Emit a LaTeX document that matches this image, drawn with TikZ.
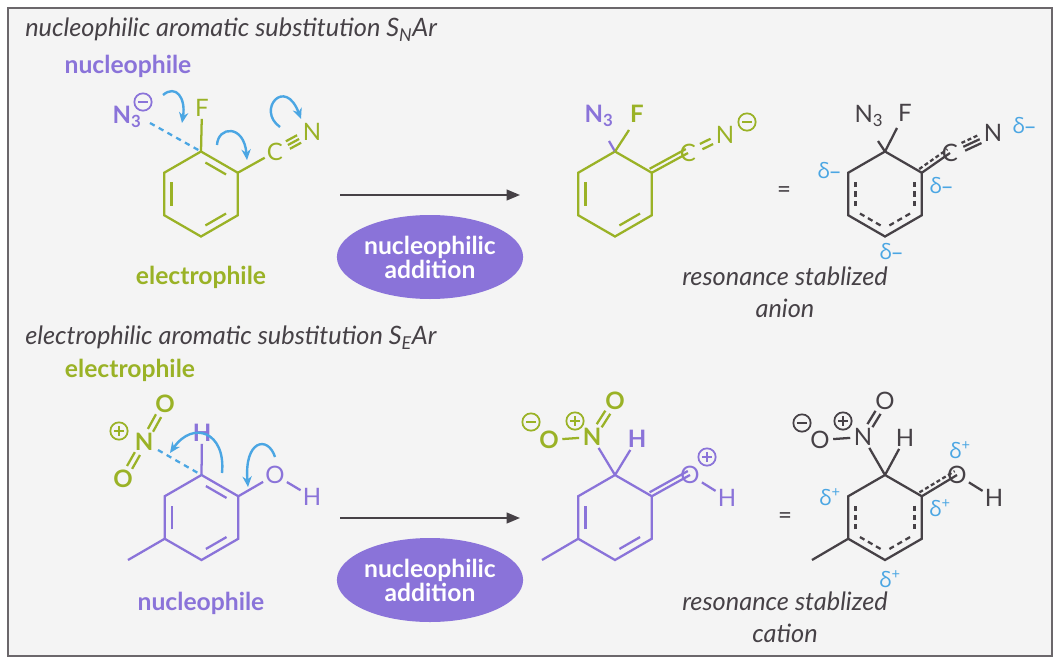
\documentclass[tikz,border=0pt]{standalone}
\usepackage{fontspec}
\setmainfont{Lato}
\newfontfamily\gk{Open Sans}
\usetikzlibrary{calc,arrows.meta,shapes.geometric}
\definecolor{grn}{HTML}{9AB226}
\definecolor{pur}{HTML}{8A73D9}
\definecolor{blu}{HTML}{4BA6E3}
\definecolor{dgr}{HTML}{464146}
\definecolor{bgc}{HTML}{F4F4F4}
\newcommand\chemring[3]{\coordinate (#1c) at (#2,#3);
 \foreach \i/\a in {1/-90,2/-30,3/30,4/90,5/150,6/210}{\coordinate (#1\i) at ($(#1c)+(\a:42.5)$);}}
\newcommand\ib[4]{\path ($(#1)!0.2!(#3)$) coordinate (iba) ($(#2)!0.2!(#3)$) coordinate (ibb);
 \draw[#4] ($(iba)!0.15!(ibb)$) -- ($(ibb)!0.15!(iba)$);}
\newcommand\mb[5]{\draw[#5,shorten <=#4,shorten >=#4] ($(#1)!#3!90:(#2)$) -- ($(#2)!#3!-90:(#1)$);}
\begin{document}
\begin{tikzpicture}[x=0.75pt,y=-0.75pt,
 gb/.style={draw=grn,line width=1.7pt},
 pb/.style={draw=pur,line width=1.7pt},
 kb/.style={draw=dgr,line width=1.7pt},
 kd/.style={kb,dash pattern=on 4pt off 3pt},
 atm/.style={font=\fontsize{18}{21}\selectfont,inner sep=1.5pt},
 bat/.style={atm,font=\fontsize{18}{21}\selectfont\bfseries},
 ttl/.style={font=\fontsize{19}{23}\selectfont\itshape,text=dgr,anchor=west,inner sep=0},
 big/.style={font=\fontsize{18.5}{22}\selectfont\bfseries,inner sep=0},
 dl/.style={text=blu,font=\gk\fontsize{16}{18}\selectfont,inner sep=0},
 chg/.style={circle,draw,line width=1.3pt,minimum size=13pt,inner sep=0},
 chm/.style={chg,path picture={\draw[line width=1.3pt,#1]([xshift=-3.5pt]path picture bounding box.center)--([xshift=3.5pt]path picture bounding box.center);}},
 chp/.style={chg,path picture={\draw[line width=1.3pt,#1]([xshift=-3.5pt]path picture bounding box.center)--([xshift=3.5pt]path picture bounding box.center) ([yshift=-3.5pt]path picture bounding box.center)--([yshift=3.5pt]path picture bounding box.center);}},
 ca/.style={draw=blu,line width=1.8pt,-{Stealth[length=8pt,width=7pt]}},
 rx/.style={draw=dgr,line width=1.5pt,-{Triangle[length=10pt,width=8pt]}},
 ell/.style={ellipse,fill=pur,minimum width=132pt,minimum height=63pt,text=white,font=\fontsize{18.5}{21}\selectfont\bfseries,align=center,inner sep=0}]
\useasboundingbox (0,0) rectangle (1060,664);
\draw[fill=bgc,draw=dgr!80,line width=1.5pt] (8,8) rectangle (1052,656);
% ---------- top half
\node[ttl] (t1) at (25,30) {nucleophilic aromatic substitution S\textsubscript{N}Ar};
\node[big,text=pur] (nu1) at (128,66) {nucleophile};
\node[big,text=grn] (el1) at (201,277) {electrophile};
% molecule 1
\chemring{A}{201}{194}
\draw[gb] (A1)--(A2)--(A3)--(A4)--(A5)--(A6)--cycle;
\ib{A1}{A2}{Ac}{gb}\ib{A3}{A4}{Ac}{gb}\ib{A5}{A6}{Ac}{gb}
\node[atm,text=grn] (F1) at (202,108) {F};
\draw[gb] (A1)--(F1);
\node[atm,text=grn] (C1) at (275,152) {C};
\node[atm,text=grn] (N1) at (312,132) {N};
\draw[gb] (A2)--(C1);
\mb{C1}{N1}{0pt}{11pt}{gb}\mb{C1}{N1}{3.2pt}{11pt}{gb}\mb{C1}{N1}{-3.2pt}{11pt}{gb}
\node[bat,text=pur] (Nt1) at (127,117) {N\textsubscript{3}};
\node[chm=pur,draw=pur] (m1) at (143,102) {};
\draw[draw=blu,line width=1.7pt,dash pattern=on 4pt off 3.5pt] (150,123) -- (A1);
\draw[ca] (163,95) .. controls (176,84) and (186,98) .. (182,123);
\draw[ca] (217,145) .. controls (218,126) and (244,124) .. (247,160);
\draw[ca] (280,127) .. controls (256,110) and (285,76) .. (301,119);
% arrow + ellipse
\coordinate (a1s) at (340,195); \coordinate (a1e) at (520,195);
\draw[rx] (a1s) -- (a1e);
\node[ell] (e1) at (430,257) {nucleophilic\\[-3pt]addition};
% molecule 2
\chemring{B}{615}{194}
\draw[gb] (B1)--(B2)--(B3)--(B4)--(B5)--(B6)--cycle;
\ib{B5}{B6}{Bc}{gb}\ib{B3}{B4}{Bc}{gb}
\node[atm,text=grn] (C2) at (688,153) {C};
\node[atm,text=grn] (N2) at (725,135) {N};
\node[chm=grn,draw=grn] (m2) at (747,122) {};
\mb{B2}{C2}{0pt}{0pt}{gb,shorten >=9pt}\mb{B2}{C2}{3.4pt}{0pt}{gb,shorten >=11pt,shorten <=5pt}
\mb{C2}{N2}{2.2pt}{11pt}{gb}\mb{C2}{N2}{-2.2pt}{11pt}{gb}
\node[bat,text=pur] (Nt2) at (599,116) {N\textsubscript{3}};
\node[bat,text=grn] (F2) at (637,114) {F};
\coordinate (n2b) at (609,141); \coordinate (f2b) at (629,130);
\draw[pb] (B1)--(n2b); \draw[gb] (B1)--(f2b);
\node[atm,text=dgr] (eq1) at (784,192) {=};
% molecule 3
\chemring{D}{885}{194}
\draw[kb] (D1)--(D2)--(D3)--(D4)--(D5)--(D6)--cycle;
\ib{D2}{D3}{Dc}{kd}\ib{D3}{D4}{Dc}{kd}\ib{D4}{D5}{Dc}{kd}\ib{D5}{D6}{Dc}{kd}
\node[atm,text=dgr] (Nt3) at (869,116) {N\textsubscript{3}};
\node[atm,text=dgr] (F3) at (905,113) {F};
\coordinate (n3b) at (878,141); \coordinate (f3b) at (897,128);
\draw[kb] (D1)--(n3b); \draw[kb] (D1)--(f3b);
\node[atm,text=dgr] (C3) at (950,153) {C};
\node[atm,text=dgr] (N3) at (993,133) {N};
\mb{D2}{C3}{0pt}{0pt}{kb,shorten >=9pt}\mb{D2}{C3}{3.4pt}{0pt}{kd,dash pattern=on 3pt off 2pt,shorten >=11pt,shorten <=5pt}
\mb{C3}{N3}{0pt}{11pt}{kb}\mb{C3}{N3}{-3.2pt}{11pt}{kb}\mb{C3}{N3}{3.2pt}{11pt}{kd,dash pattern=on 3pt off 2pt}
\node[dl] (d1) at (1024,126) {δ–};
\node[dl] (d2) at (829,171) {δ–};
\node[dl] (d3) at (941,186) {δ–};
\node[dl] (d4) at (891,252) {δ–};
\node[ttl,anchor=center,align=center] (r1) at (785,292) {resonance stablized\\[1pt]anion};
% ---------- bottom half
\node[ttl] (t2) at (25,338) {electrophilic aromatic substitution S\textsubscript{E}Ar};
\node[big,text=grn] (el2) at (130,370) {electrophile};
\node[big,text=pur] (nu2) at (201,603) {nucleophile};
% molecule 4
\chemring{G}{201.5}{517.5}
\draw[pb] (G1)--(G2)--(G3)--(G4)--(G5)--(G6)--cycle;
\ib{G1}{G2}{Gc}{pb}\ib{G3}{G4}{Gc}{pb}\ib{G5}{G6}{Gc}{pb}
\coordinate (me4) at (128,560); \draw[pb] (G5)--(me4);
\node[bat,text=pur] (H4) at (202,433) {H};
\draw[pb] (G1)--(H4);
\node[atm,text=pur] (O4) at (275,475) {O};
\node[atm,text=pur] (Hb4) at (312,497) {H};
\draw[pb] (G2)--(O4); \draw[pb] (O4)--(Hb4);
\node[bat,text=grn] (N4) at (144,442) {N};
\node[chp=grn,draw=grn] (p4) at (119,431) {};
\node[bat,text=grn] (Oa4) at (165,404) {O};
\node[bat,text=grn] (Ob4) at (123,479) {O};
\mb{N4}{Oa4}{2.2pt}{10pt}{gb}\mb{N4}{Oa4}{-2.2pt}{10pt}{gb}
\mb{N4}{Ob4}{2.2pt}{10pt}{gb}\mb{N4}{Ob4}{-2.2pt}{10pt}{gb}
\draw[draw=blu,line width=1.7pt,dash pattern=on 4pt off 3.5pt] (158,450) -- (G1);
\draw[ca] (222,473) .. controls (226,432) and (193,420) .. (170,453);
\draw[ca] (275,457) .. controls (268,435) and (244,440) .. (248,487);
\coordinate (a2s) at (340,518); \coordinate (a2e) at (520,518);
\draw[rx] (a2s) -- (a2e);
\node[ell] (e2) at (430,580) {nucleophilic\\[-3pt]addition};
% molecule 5
\chemring{K}{615}{517.5}
\draw[pb] (K1)--(K2)--(K3)--(K4)--(K5)--(K6)--cycle;
\ib{K5}{K6}{Kc}{pb}\ib{K3}{K4}{Kc}{pb}
\coordinate (me5) at (542,560); \draw[pb] (K5)--(me5);
\node[atm,text=pur] (O5) at (690,475) {O};
\node[chp=pur,draw=pur] (p5) at (707,457) {};
\node[atm,text=pur] (H5) at (727,498) {H};
\mb{K2}{O5}{0pt}{0pt}{pb,shorten >=9pt}\mb{K2}{O5}{3.4pt}{0pt}{pb,shorten >=11pt,shorten <=5pt}
\draw[pb] (O5)--(H5);
\node[bat,text=grn] (N5) at (592,437) {N};
\node[bat,text=pur] (Hn5) at (637,439) {H};
\draw[pb] (K1)--(N5); \draw[pb] (K1)--(Hn5);
\node[chp=grn,draw=grn] (p5b) at (575,421) {};
\node[bat,text=grn] (Oa5) at (615,401) {O};
\node[bat,text=grn] (Ob5) at (549,440) {O};
\node[chm=grn,draw=grn] (m5) at (531,422) {};
\mb{N5}{Oa5}{2.2pt}{10pt}{gb}\mb{N5}{Oa5}{-2.2pt}{10pt}{gb}
\draw[gb,shorten <=1pt,shorten >=1pt] (Ob5)--(N5);
\node[atm,text=dgr] (eq2) at (785,518) {=};
% molecule 6
\chemring{L}{885}{517.5}
\draw[kb] (L1)--(L2)--(L3)--(L4)--(L5)--(L6)--cycle;
\ib{L2}{L3}{Lc}{kd}\ib{L3}{L4}{Lc}{kd}\ib{L4}{L5}{Lc}{kd}\ib{L5}{L6}{Lc}{kd}
\coordinate (me6) at (812,560); \draw[kb] (L5)--(me6);
\node[atm,text=dgr] (O6) at (957,475) {O};
\node[atm,text=dgr] (H6) at (994,498) {H};
\mb{L2}{O6}{0pt}{0pt}{kb,shorten >=9pt}\mb{L2}{O6}{3.4pt}{0pt}{kd,dash pattern=on 3pt off 2pt,shorten >=11pt,shorten <=5pt}
\draw[kb] (O6)--(H6);
\node[atm,text=dgr] (N6) at (863,437) {N};
\node[atm,text=dgr] (Hn6) at (905,438) {H};
\draw[kb] (L1)--(N6); \draw[kb] (L1)--(Hn6);
\node[chp=dgr,draw=dgr] (p6) at (843,421) {};
\node[atm,text=dgr] (Oa6) at (885,401) {O};
\node[atm,text=dgr] (Ob6) at (820,440) {O};
\node[chm=dgr,draw=dgr] (m6) at (802,423) {};
\mb{N6}{Oa6}{2.2pt}{10pt}{kb}\mb{N6}{Oa6}{-2.2pt}{10pt}{kb}
\draw[kb,shorten <=1pt,shorten >=1pt] (Ob6)--(N6);
\node[dl] (q1) at (960,450) {δ\textsuperscript{+}};
\node[dl] (q2) at (830,497) {δ\textsuperscript{+}};
\node[dl] (q3) at (940,508) {δ\textsuperscript{+}};
\node[dl] (q4) at (890,579) {δ\textsuperscript{+}};
\node[ttl,anchor=center,align=center] (r2) at (785,617) {resonance stablized\\[1pt]cation};
\end{tikzpicture}
\end{document}
